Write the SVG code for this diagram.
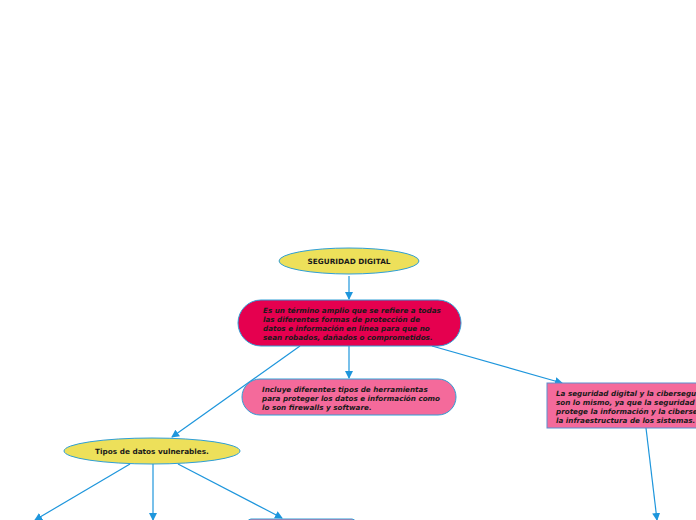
<svg xmlns="http://www.w3.org/2000/svg" width="696" height="520" viewBox="0 0 696 520">
<style>
.t{font-family:"DejaVu Sans",sans-serif;font-weight:bold;font-style:italic;font-size:7.2px;fill:#1a1a1a}
.h{font-family:"DejaVu Sans",sans-serif;font-weight:bold;font-size:7.3px;fill:#1a1a1a}
.c{stroke:#1e96dc;stroke-width:1.2;fill:none;marker-end:url(#a)}
.y{fill:#ede05a;stroke:#2f9fd6;stroke-width:1}
</style>
<defs><marker id="a" markerWidth="8" markerHeight="8" refX="7" refY="4" orient="auto" markerUnits="userSpaceOnUse"><path d="M0,0L8,4L0,8z" fill="#1e96dc"/></marker></defs>
<rect width="696" height="520" fill="#fff"/>
<g id="connectors">
<path class="c" d="M349,276V299"/>
<path class="c" d="M349,346V378"/>
<path class="c" d="M300,346L172,437"/>
<path class="c" d="M432,346L562,383"/>
<path class="c" d="M646,428L657,520"/>
<path class="c" d="M130,464L35,520"/>
<path class="c" d="M153,464V520"/>
<path class="c" d="M178,464L282,518"/>
</g>
<g id="n1"><ellipse class="y" cx="349" cy="261" rx="70" ry="13"/><text class="h" x="349" y="263.5" text-anchor="middle">SEGURIDAD DIGITAL</text></g>
<g id="n2"><rect x="238" y="300" width="223" height="46" rx="23" fill="#e5004f" stroke="#2f9fd6"/>
<text class="t" x="263" y="313">Es un término amplio que se refiere a todas</text>
<text class="t" x="263" y="322">las diferentes formas de protección de</text>
<text class="t" x="263" y="331">datos e información en línea para que no</text>
<text class="t" x="263" y="340">sean robados, dañados o comprometidos.</text></g>
<g id="n3"><rect x="242" y="379" width="214" height="36" rx="18" fill="#f46a9b" stroke="#2f9fd6"/>
<text class="t" x="262" y="392">Incluye diferentes tipos de herramientas</text>
<text class="t" x="262" y="401">para proteger los datos e  información como</text>
<text class="t" x="262" y="410">lo son firewalls y software.</text></g>
<g id="n4"><rect x="547" y="383" width="160" height="45" fill="#f46a9b" stroke="#5a8fd0"/>
<text class="t" x="556" y="396">La seguridad digital y la ciberseguridad</text>
<text class="t" x="556" y="405">son lo mismo, ya que la seguridad digital</text>
<text class="t" x="556" y="414">protege la información y la ciberseguridad</text>
<text class="t" x="556" y="423">la infraestructura de los sistemas.</text></g>
<g id="n5"><ellipse class="y" cx="152" cy="451" rx="88" ry="13"/><text class="h" x="152" y="454" text-anchor="middle">Tipos de datos vulnerables.</text></g>
<g id="n6"><rect x="248" y="519" width="107" height="10" rx="3" fill="#f46a9b" stroke="#2f9fd6"/></g>
</svg>
